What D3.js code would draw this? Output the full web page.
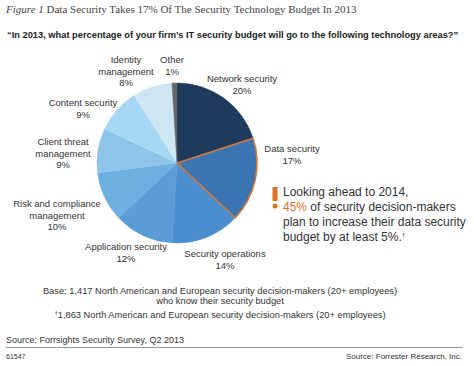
<!DOCTYPE html>
<html>
<head>
    <title>Security Technology Budget 2013</title>
    <style>
        body { margin: 0; background: #fff; }
        svg text { font-family: "Liberation Sans", Arial, sans-serif; fill: #333; }
    </style>
</head>
<body>
    <div id="chart"></div>
    <script src="https://d3js.org/d3.v7.min.js"></script>
    <script>
        // Data (percent of IT security budget)
        const categories = ["Network security", "Data security", "Security operations",
            "Application security", "Risk and compliance management", "Client threat management",
            "Content security", "Identity management", "Other"];
        const values = [20, 17, 14, 12, 10, 9, 9, 8, 1];
        const labelLines = [
            ["Network security"], ["Data security"], ["Security operations"],
            ["Application security"], ["Risk and compliance", "management"],
            ["Client threat", "management"], ["Content security"],
            ["Identity", "management"], ["Other"]
        ];
        const colors = ["#1e3a5c", "#3b74b3", "#4a8ed0", "#5a9dd6", "#6cafe1",
            "#8dc4e8", "#a6d8f4", "#cde6f2", "#666666"];
        // label anchor points (centre of first line)
        const labelPos = [[242, 79], [292, 149], [225, 254], [126, 247], [57, 204],
            [63, 142], [83, 103], [126, 60], [172, 60]];

        const W = 474, H = 366;
        const cx = 177, cy = 163, r = 80;

        const svg = d3.select("#chart").append("svg")
            .attr("width", W).attr("height", H);

        // Title
        const title = svg.append("text")
            .attr("x", 6).attr("y", 13)
            .style("font-family", "'Liberation Serif', 'DejaVu Serif', serif")
            .style("font-size", "11px").style("fill", "#444");
        title.append("tspan").style("font-style", "italic").text("Figure 1");
        title.append("tspan").text(" Data Security Takes 17% Of The Security Technology Budget In 2013");

        svg.append("text")
            .attr("x", 7).attr("y", 38)
            .style("font-size", "9.3px").style("font-weight", "bold").style("fill", "#222")
            .text("\u201cIn 2013, what percentage of your firm\u2019s IT security budget will go to the following technology areas?\u201d");

        // Pie
        const pie = d3.pie().sort(null).value(d => d);
        const arc = d3.arc().innerRadius(0).outerRadius(r);
        const arcs = pie(values);

        const g = svg.append("g").attr("transform", `translate(${cx},${cy})`);
        g.selectAll("path.slice").data(arcs).enter().append("path")
            .attr("class", "slice")
            .attr("d", arc)
            .attr("fill", (d, i) => colors[i])
            .attr("stroke", (d, i) => colors[i])
            .attr("stroke-width", 0.5);

        // orange outline on data security slice
        g.append("path")
            .attr("d", arc(arcs[1]))
            .attr("fill", "none")
            .attr("stroke", "#d9782f")
            .attr("stroke-width", 1.5);

        // Labels
        labelLines.forEach((lines, i) => {
            const t = svg.append("text")
                .attr("text-anchor", "middle")
                .style("font-size", "9.5px");
            const all = lines.concat([values[i] + "%"]);
            all.forEach((s, k) => {
                t.append("tspan")
                    .attr("x", labelPos[i][0])
                    .attr("y", labelPos[i][1] + 3.3 + k * 11.4)
                    .text(s);
            });
        });

        // Callout
        const orange = "#e0712b";
        svg.append("rect").attr("x", 272.5).attr("y", 187).attr("width", 5).attr("height", 14)
            .attr("fill", orange);
        svg.append("circle").attr("cx", 275).attr("cy", 206).attr("r", 2.5).attr("fill", orange);

        const callout = [
            [["Looking ahead to 2014,", null]],
            [["45%", orange], [" of security decision-makers", null]],
            [["plan to increase their data security", null]],
            [["budget by at least 5%.", null], ["\u2020", "sup"]]
        ];
        callout.forEach((parts, k) => {
            const t = svg.append("text")
                .attr("x", 283).attr("y", 196 + k * 15)
                .style("font-size", "12px");
            parts.forEach(([s, c]) => {
                const ts = t.append("tspan").text(s);
                if (c === "sup") ts.attr("dy", -4).style("font-size", "6px");
                else if (c) ts.style("fill", c);
            });
        });

        // Base notes
        svg.append("text").attr("x", 220).attr("y", 294).attr("text-anchor", "middle")
            .style("font-size", "9.3px")
            .text("Base: 1,417 North American and European security decision-makers (20+ employees)");
        svg.append("text").attr("x", 220).attr("y", 303.5).attr("text-anchor", "middle")
            .style("font-size", "9.3px")
            .text("who know their security budget");
        const fn = svg.append("text").attr("x", 220).attr("y", 318).attr("text-anchor", "middle")
            .style("font-size", "9.3px");
        fn.append("tspan").attr("dy", -3).style("font-size", "6px").text("\u2020");
        fn.append("tspan").attr("dy", 3).text("1,863 North American and European security decision-makers (20+ employees)");

        // Footer
        svg.append("text").attr("x", 6).attr("y", 343).style("font-size", "9px")
            .text("Source: Forrsights Security Survey, Q2 2013");
        svg.append("line").attr("x1", 6).attr("x2", 463).attr("y1", 347.5).attr("y2", 347.5)
            .attr("stroke", "#999").attr("stroke-width", 1);
        svg.append("text").attr("x", 6).attr("y", 359).style("font-size", "7px")
            .text("61547");
        svg.append("text").attr("x", 462).attr("y", 359).attr("text-anchor", "end")
            .style("font-size", "8px")
            .text("Source: Forrester Research, Inc.");
    </script>
</body>
</html>
